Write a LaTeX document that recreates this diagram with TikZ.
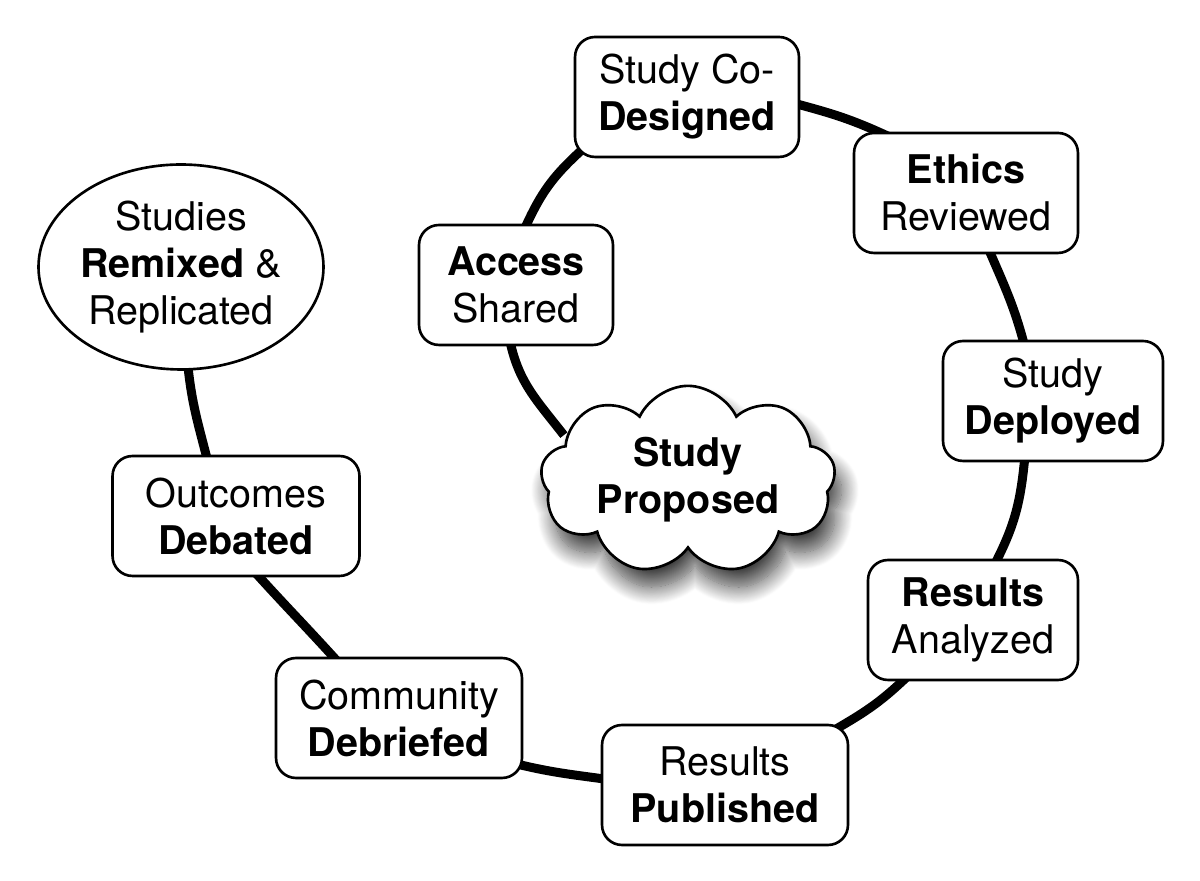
\documentclass[tikz,border=0pt]{standalone}
\usepackage{fontspec}
\setmainfont{TeX Gyre Heros}
\usetikzlibrary{shapes,shadows.blur,backgrounds}

\begin{document}
\begin{tikzpicture}[x=0.02cm, y=0.02cm,
    stage/.style={rectangle, draw, line width=1.5pt, fill=white, rounded corners=0.4cm, align=center, minimum height=2.4cm, inner sep=2pt, font=\fontsize{22.5}{26.8}\selectfont},
    loop/.style={line width=0.18cm, shorten <=-0.3cm, shorten >=-0.3cm}]
    \useasboundingbox (0,0) rectangle (1200,881);

    % Nodes
    \node (proposed) [cloud, cloud puffs=9, cloud puff arc=130, cloud ignores aspect, draw, line width=1.5pt, fill=white, minimum width=5.9cm, minimum height=3.55cm, align=center, font=\fontsize{22.5}{26.8}\selectfont, blur shadow={shadow xshift=0.14cm, shadow yshift=-0.36cm, shadow blur radius=0.35cm, shadow blur steps=20, shadow opacity=75}] at (688,401) {\textbf{Study}\\\textbf{Proposed}};
    \node (access) [stage, minimum width=3.88cm] at (516,596) {\textbf{Access}\\Shared};
    \node (codesigned) [stage, minimum width=4.48cm] at (687,784) {Study Co-\\\textbf{Designed}};
    \node (ethics) [stage, minimum width=4.48cm] at (966,688) {\textbf{Ethics}\\Reviewed};
    \node (deployed) [stage, minimum width=4.4cm] at (1053,480) {Study\\\textbf{Deployed}};
    \node (analyzed) [stage, minimum width=4.2cm] at (973,261) {\textbf{Results}\\Analyzed};
    \node (published) [stage, minimum width=4.92cm] at (725,96) {Results\\\textbf{Published}};
    \node (debriefed) [stage, minimum width=4.92cm] at (399,163) {Community\\\textbf{Debriefed}};
    \node (outcomes) [stage, minimum width=4.94cm] at (236,365) {Outcomes\\\textbf{Debated}};
    \node (remixed) [ellipse, draw, line width=1.5pt, fill=white, inner sep=0pt, minimum width=5.68cm, minimum height=4.1cm, align=center, font=\fontsize{22.5}{26.8}\selectfont] at (181,614) {Studies\\\textbf{Remixed} \&\\Replicated};

    % Edges
    \begin{scope}[on background layer]
    \draw[loop] ([shift={(-14,6)}]proposed.157) to[out=128, in=-80] (access.265);
    \draw[loop] (access.80) to[out=66, in=222] (codesigned.208);
    \draw[loop] (codesigned.-4) to[out=-15, in=155] (ethics.145);
    \draw[loop] (ethics.-68) to[out=-67, in=104] (deployed.116);
    \draw[loop] (deployed.245) to[out=-95, in=62] (analyzed.68);
    \draw[loop] (analyzed.221) to[out=-136, in=30] (published.27);
    \draw[loop] (published.177) to[out=172, in=-14] (debriefed.-21);
    \draw[loop] (debriefed.137) to[out=132, in=-48] (outcomes.-69);
    \draw[loop] (outcomes.116) to[out=104, in=-85] (remixed.274);
    \end{scope}
\end{tikzpicture}
\end{document}
